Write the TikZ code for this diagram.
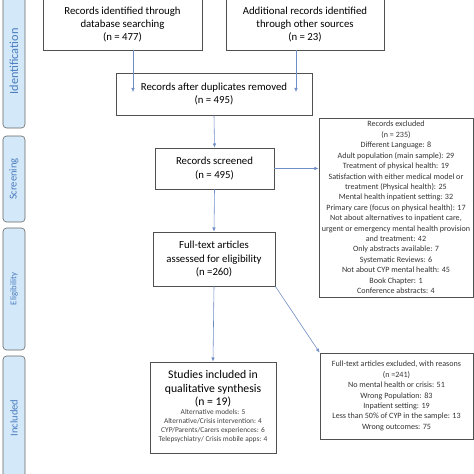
\documentclass[tikz,border=0pt]{standalone}
\usepackage{fontspec}
\setmainfont{Carlito}
\usetikzlibrary{arrows.meta}
\definecolor{tabfill}{HTML}{D3E8F8}
\definecolor{tabtext}{HTML}{4A7CC0}
\definecolor{arrowblue}{HTML}{6F8DC6}
\definecolor{boxline}{HTML}{505050}

\begin{document}
\begin{tikzpicture}[
  box/.style={draw=boxline, line width=0.7pt, align=center, inner sep=1pt, font=\fontsize{9.2}{11.5}\selectfont},
  smallbox/.style={box, font=\fontsize{6.9}{8.9}\selectfont, text=black!80},
  tab/.style={fill=tabfill, draw=black!60, line width=0.5pt, rounded corners=3pt, rotate=90, minimum height=0.66cm, text=tabtext, inner sep=0pt},
  arr/.style={draw=arrowblue, line width=0.5pt, -{Latex[length=3.5pt,width=3pt]}}
]
\useasboundingbox (0,0) rectangle (14.22,-14.22);
\clip (0,0) rectangle (14.22,-14.22);

% Side tabs
\node[tab, minimum width=3.99cm, font=\fontsize{10.5}{12}\selectfont] (tabid) at (0.42,-1.845) {Identification};
\node[tab, minimum width=2.58cm, font=\fontsize{9}{11}\selectfont] (tabscr) at (0.42,-5.37) {Screening};
\node[tab, minimum width=3.66cm, font=\fontsize{7.5}{9}\selectfont] (tabel) at (0.42,-8.67) {Eligibility};
\node[tab, minimum width=3.72cm, font=\fontsize{9}{11}\selectfont] (tabinc) at (0.42,-12.54) {Included};

% Identification
\node[box, minimum width=4.77cm, minimum height=1.53cm] (db) at (3.675,-0.735)
  {Records identified through\\database searching\\(n = 477)};
\node[box, minimum width=4.74cm, minimum height=1.53cm] (oth) at (9.15,-0.735)
  {Additional records identified\\through other sources\\(n = 23)};
\node[box, minimum width=5.88cm, minimum height=1.26cm] (dup) at (6.42,-2.82)
  {Records after duplicates removed\\(n = 495)};

% Screening
\node[box, minimum width=3.57cm, minimum height=1.23cm] (scr) at (6.435,-5.055)
  {Records screened\\(n = 495)};
\node[smallbox, minimum width=4.62cm, minimum height=5.37cm] (excl) at (11.88,-6.225)
  {Records excluded\\(n = 235)\\Different Language: 8\\Adult population (main sample): 29\\
   Treatment of physical health: 19\\Satisfaction with either medical model or\\
   treatment (Physical health): 25\\Mental health inpatient setting: 32\\
   Primary care (focus on physical health): 17\\Not about alternatives to inpatient care,\\
   urgent or emergency mental health provision\\and treatment: 42\\
   Only abstracts available: 7\\Systematic Reviews: 6\\Not about CYP mental health: 45\\
   Book Chapter: 1\\Conference abstracts: 4};

% Eligibility
\node[box, minimum width=3.66cm, minimum height=1.62cm] (ft) at (6.42,-7.77)
  {Full-text articles\\assessed for eligibility\\(n =260)};
\node[smallbox, minimum width=4.59cm, minimum height=2.58cm] (ftex) at (11.895,-11.88)
  {Full-text articles excluded, with reasons\\(n =241)\\No mental health or crisis: 51\\
   Wrong Population: 83\\Inpatient setting: 19\\Less than 50\% of CYP in the sample: 13\\
   Wrong outcomes: 75};

% Included
\node[box, minimum width=3.78cm, minimum height=2.73cm, font=\fontsize{10}{11.5}\selectfont] (inc) at (6.39,-12.225)
  {Studies included in\\qualitative synthesis\\(n = 19)\\[-3.8pt]
   {\fontsize{6.3}{7.7}\selectfont\color{black!75}%
   \begin{tabular}[t]{@{}c@{}}Alternative models: 5\\Alternative/Crisis intervention: 4\\
   CYP/Parents/Carers experiences: 6\\Telepsychiatry/ Crisis mobile apps: 4\end{tabular}}};

% Arrows
\coordinate (dbend) at (3.99,-2.76);
\coordinate (othend) at (8.88,-2.76);
\draw[arr] (db.south -| dbend) -- (dbend);
\draw[arr] (oth.south -| othend) -- (othend);
\draw[arr] (dup.south) -- (scr.north);
\draw[arr] (scr.east) -- (scr.east -| excl.west);
\draw[arr] (scr.south) -- (ft.north);
\draw[arr] (ft.south) -- (inc.north);
\draw[arr] (ft.south east) -- (ftex.north west);
\end{tikzpicture}
\end{document}
